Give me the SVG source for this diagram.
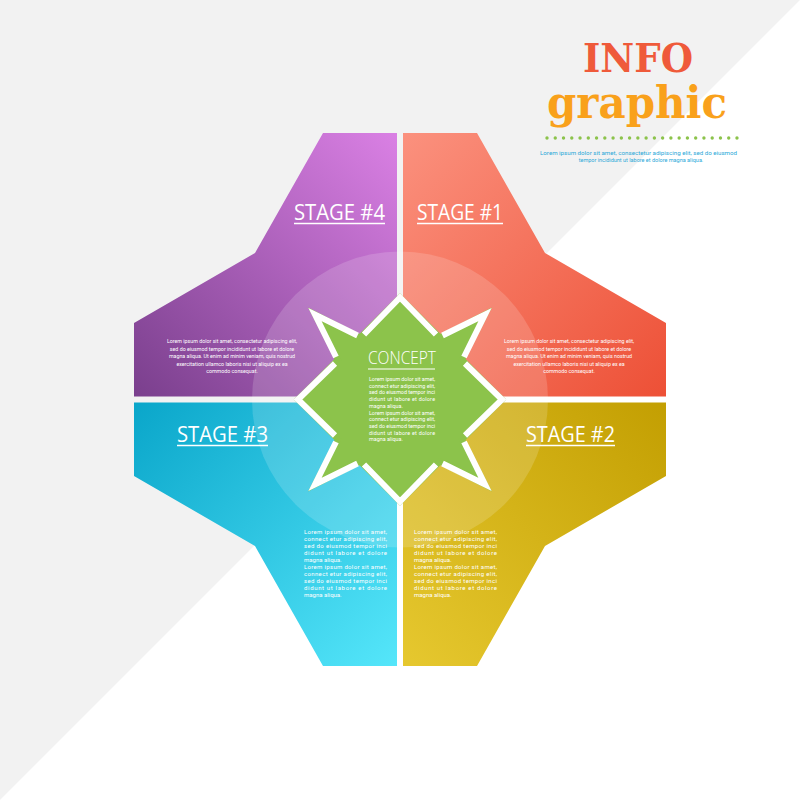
<svg xmlns="http://www.w3.org/2000/svg" width="800" height="800" viewBox="0 0 800 800">
<defs>
<linearGradient id="g4" x1="1" y1="0" x2="0" y2="1"><stop offset="0" stop-color="#da80e4"/><stop offset="1" stop-color="#7a3f8d"/></linearGradient>
<linearGradient id="g1" x1="0" y1="0" x2="1" y2="1"><stop offset="0" stop-color="#fb917e"/><stop offset="1" stop-color="#ed5036"/></linearGradient>
<linearGradient id="g3" x1="0" y1="0" x2="1" y2="1"><stop offset="0" stop-color="#0aa6ca"/><stop offset="1" stop-color="#55e6fa"/></linearGradient>
<linearGradient id="g2" x1="1" y1="0" x2="0" y2="1"><stop offset="0" stop-color="#c39f02"/><stop offset="1" stop-color="#e6c82f"/></linearGradient>
<path id="piece" d="M-36,-65 L0,-102 L36,-65 M42.5,-64 L85,-85 L64,-42.5" fill="none" stroke="#ffffff" stroke-width="6" stroke-linejoin="miter"/>
<style>
.lbl{font-family:"Open Sans","Liberation Sans",sans-serif;font-size:21px;fill:#fff;}
.ul{stroke:#fff;stroke-width:1.6;}
.body{font-family:Roboto,"Liberation Sans",sans-serif;font-size:5.3px;fill:#fff;}
.jb{font-family:Roboto,"Liberation Sans",sans-serif;font-size:6px;fill:#fff;}
.cb{font-family:Roboto,"Liberation Sans",sans-serif;font-size:5.4px;fill:#fff;}
</style>
</defs>
<rect width="800" height="800" fill="#f2f2f2"/>
<polygon points="800,0 800,800 0,800" fill="#ffffff"/>

<g id="title">
<text x="583" y="72" font-family="'DejaVu Serif','Liberation Serif',serif" font-weight="bold" font-size="40" fill="#ef5a3a" textLength="110" lengthAdjust="spacingAndGlyphs">INFO</text>
<text x="547" y="118" font-family="'DejaVu Serif','Liberation Serif',serif" font-weight="bold" font-size="44" fill="#f9a11b" textLength="180" lengthAdjust="spacingAndGlyphs">graphic</text>
<line x1="547" y1="138" x2="737" y2="138" stroke="#8cc34b" stroke-width="3.4" stroke-linecap="round" stroke-dasharray="0 8.26"/>
<text x="540" y="155" font-family="Roboto,'Liberation Sans',sans-serif" font-size="5.5" fill="#2aa8d8" textLength="197" lengthAdjust="spacingAndGlyphs">Lorem ipsum dolor sit amet, consectetur adipiscing elit, sed do eiusmod</text>
<text x="641" y="162" text-anchor="middle" font-family="Roboto,'Liberation Sans',sans-serif" font-size="5.5" fill="#2aa8d8">tempor incididunt ut labore et dolore magna aliqua.</text>
</g>

<g id="stage4">
<polygon points="323,133 397,133 397,396.5 134,396.5 134,323 255,253" fill="url(#g4)"/>
<text class="lbl" x="294" y="220" textLength="91" lengthAdjust="spacingAndGlyphs">STAGE #4</text>
<line class="ul" x1="294" y1="223.5" x2="385" y2="223.5"/>
<g class="body" text-anchor="middle">
<text x="232" y="343">Lorem ipsum dolor sit amet, consectetur adipiscing elit,</text>
<text x="232" y="350.5">sed do eiusmod tempor incididunt ut labore et dolore</text>
<text x="232" y="358">magna aliqua. Ut enim ad minim veniam, quis nostrud</text>
<text x="232" y="365.5">exercitation ullamco laboris nisi ut aliquip ex ea</text>
<text x="232" y="373">commodo consequat.</text>
</g>
</g>

<g id="stage1">
<polygon points="403,133 477,133 545,253 666,323 666,396.5 403,396.5" fill="url(#g1)"/>
<text class="lbl" x="417" y="220" textLength="86" lengthAdjust="spacingAndGlyphs">STAGE #1</text>
<line class="ul" x1="417" y1="223.5" x2="503" y2="223.5"/>
<g class="body" text-anchor="middle">
<text x="569" y="343">Lorem ipsum dolor sit amet, consectetur adipiscing elit,</text>
<text x="569" y="350.5">sed do eiusmod tempor incididunt ut labore et dolore</text>
<text x="569" y="358">magna aliqua. Ut enim ad minim veniam, quis nostrud</text>
<text x="569" y="365.5">exercitation ullamco laboris nisi ut aliquip ex ea</text>
<text x="569" y="373">commodo consequat.</text>
</g>
</g>

<g id="stage3">
<polygon points="134,402.5 397,402.5 397,666 323,666 255,546 134,476" fill="url(#g3)"/>
<text class="lbl" x="177" y="442" textLength="91" lengthAdjust="spacingAndGlyphs">STAGE #3</text>
<line class="ul" x1="177" y1="445.5" x2="268" y2="445.5"/>
<g class="jb">
<text x="304" y="534" textLength="83" lengthAdjust="spacing">Lorem ipsum dolor sit amet,</text>
<text x="304" y="541" textLength="83" lengthAdjust="spacing">connect etur adipiscing elit,</text>
<text x="304" y="548" textLength="83" lengthAdjust="spacing">sed do eiusmod tempor inci</text>
<text x="304" y="555" textLength="83" lengthAdjust="spacing">didunt ut labore et dolore</text>
<text x="304" y="562">magna aliqua.</text>
<text x="304" y="569" textLength="83" lengthAdjust="spacing">Lorem ipsum dolor sit amet,</text>
<text x="304" y="576" textLength="83" lengthAdjust="spacing">connect etur adipiscing elit,</text>
<text x="304" y="583" textLength="83" lengthAdjust="spacing">sed do eiusmod tempor inci</text>
<text x="304" y="590" textLength="83" lengthAdjust="spacing">didunt ut labore et dolore</text>
<text x="304" y="597">magna aliqua.</text>
</g>
</g>

<g id="stage2">
<polygon points="403,402.5 666,402.5 666,476 545,546 477,666 403,666" fill="url(#g2)"/>
<text class="lbl" x="526" y="442" textLength="89" lengthAdjust="spacingAndGlyphs">STAGE #2</text>
<line class="ul" x1="526" y1="445.5" x2="615" y2="445.5"/>
<g class="jb">
<text x="414" y="534" textLength="83" lengthAdjust="spacing">Lorem ipsum dolor sit amet,</text>
<text x="414" y="541" textLength="83" lengthAdjust="spacing">connect etur adipiscing elit,</text>
<text x="414" y="548" textLength="83" lengthAdjust="spacing">sed do eiusmod tempor inci</text>
<text x="414" y="555" textLength="83" lengthAdjust="spacing">didunt ut labore et dolore</text>
<text x="414" y="562">magna aliqua.</text>
<text x="414" y="569" textLength="83" lengthAdjust="spacing">Lorem ipsum dolor sit amet,</text>
<text x="414" y="576" textLength="83" lengthAdjust="spacing">connect etur adipiscing elit,</text>
<text x="414" y="583" textLength="83" lengthAdjust="spacing">sed do eiusmod tempor inci</text>
<text x="414" y="590" textLength="83" lengthAdjust="spacing">didunt ut labore et dolore</text>
<text x="414" y="597">magna aliqua.</text>
</g>
</g>

<circle id="ring" cx="400" cy="399.5" r="148" fill="#ffffff" fill-opacity="0.16"/>

<g id="concept">
<g transform="translate(400,399.5)">
<polygon points="0,-102 40,-62 85,-85 62,-40 102,0 62,40 85,85 40,62 0,102 -40,62 -85,85 -62,40 -102,0 -62,-40 -85,-85 -40,-62" fill="#8cc34b" stroke="#8cc34b" stroke-width="6" stroke-linejoin="miter"/>
<use href="#piece"/>
<use href="#piece" transform="rotate(90)"/>
<use href="#piece" transform="rotate(180)"/>
<use href="#piece" transform="rotate(270)"/>
</g>
<text x="402" y="364" text-anchor="middle" font-family="'Open Sans','Liberation Sans',sans-serif" font-weight="300" font-size="19" fill="#fff" textLength="68" lengthAdjust="spacingAndGlyphs">CONCEPT</text>
<line x1="368" y1="369" x2="435" y2="369" stroke="#fff" stroke-width="1.2"/>
<g class="cb">
<text x="369" y="381" textLength="66" lengthAdjust="spacing">Lorem ipsum dolor sit amet,</text>
<text x="369" y="387.7" textLength="66" lengthAdjust="spacing">connect etur adipiscing elit,</text>
<text x="369" y="394.4" textLength="66" lengthAdjust="spacing">sed do eiusmod tempor inci</text>
<text x="369" y="401.1" textLength="66" lengthAdjust="spacing">didunt ut labore et dolore</text>
<text x="369" y="407.8">magna aliqua.</text>
<text x="369" y="414.5" textLength="66" lengthAdjust="spacing">Lorem ipsum dolor sit amet,</text>
<text x="369" y="421.2" textLength="66" lengthAdjust="spacing">connect etur adipiscing elit,</text>
<text x="369" y="427.9" textLength="66" lengthAdjust="spacing">sed do eiusmod tempor inci</text>
<text x="369" y="434.6" textLength="66" lengthAdjust="spacing">didunt ut labore et dolore</text>
<text x="369" y="441.3">magna aliqua.</text>
</g>
</g>
</svg>
